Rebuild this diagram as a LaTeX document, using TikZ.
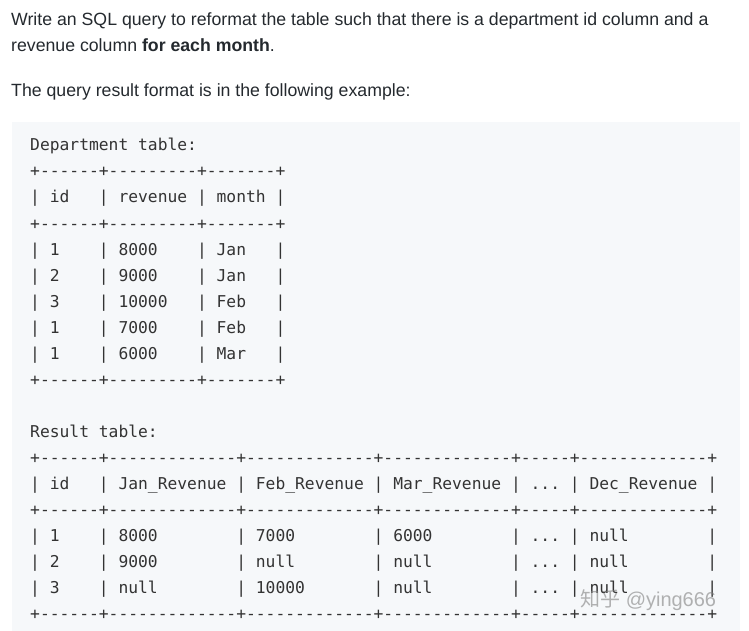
\documentclass[tikz,border=0pt]{standalone}
\usepackage{fontspec}
\setmainfont{Liberation Sans}
\setmonofont{DejaVu Sans Mono}
\newfontfamily\cjk{Noto Sans CJK SC}
\definecolor{txt}{HTML}{24292E}
\definecolor{code}{HTML}{333333}
\definecolor{codebg}{HTML}{F6F8FA}
\begin{document}
\begin{tikzpicture}[x=1pt,y=-1pt,
  para/.style={anchor=base west,inner sep=0pt,text=txt,font=\fontsize{17.7}{20}\selectfont},
  cl/.style={anchor=base west,inner sep=0pt,text=code,font=\ttfamily\fontsize{16.3}{20}\selectfont}]
\useasboundingbox (0,0) rectangle (749,631);
\fill[codebg] (12,122) rectangle (740,631);
\node[para] (p1) at (11,26) {Write an SQL query to reformat the table such that there is a department id column and a};
\node[para] (p2) at (11,52) {revenue column \textbf{for each month}.};
\node[para] (p3) at (11,97) {The query result format is in the following example:};
\def\ln#1#2{\node[cl] (l#1) at (30,{146+26*(#1)+5}) {#2};}
\ln{0}{Department~table:}
\ln{1}{+------+---------+-------+}
\ln{2}{|~id~~~|~revenue~|~month~|}
\ln{3}{+------+---------+-------+}
\ln{4}{|~1~~~~|~8000~~~~|~Jan~~~|}
\ln{5}{|~2~~~~|~9000~~~~|~Jan~~~|}
\ln{6}{|~3~~~~|~10000~~~|~Feb~~~|}
\ln{7}{|~1~~~~|~7000~~~~|~Feb~~~|}
\ln{8}{|~1~~~~|~6000~~~~|~Mar~~~|}
\ln{9}{+------+---------+-------+}
\ln{11}{Result~table:}
\ln{12}{+------+-------------+-------------+-------------+-----+-------------+}
\ln{13}{|~id~~~|~Jan\_Revenue~|~Feb\_Revenue~|~Mar\_Revenue~|~...~|~Dec\_Revenue~|}
\ln{14}{+------+-------------+-------------+-------------+-----+-------------+}
\ln{15}{|~1~~~~|~8000~~~~~~~~|~7000~~~~~~~~|~6000~~~~~~~~|~...~|~null~~~~~~~~|}
\ln{16}{|~2~~~~|~9000~~~~~~~~|~null~~~~~~~~|~null~~~~~~~~|~...~|~null~~~~~~~~|}
\ln{17}{|~3~~~~|~null~~~~~~~~|~10000~~~~~~~|~null~~~~~~~~|~...~|~null~~~~~~~~|}
\ln{18}{+------+-------------+-------------+-------------+-----+-------------+}
\node[anchor=base west,inner sep=0pt,text=gray,opacity=0.6,font=\fontsize{20}{24}\selectfont] (wm) at (580,606) {{\cjk 知乎} @ying666};
\end{tikzpicture}
\end{document}
